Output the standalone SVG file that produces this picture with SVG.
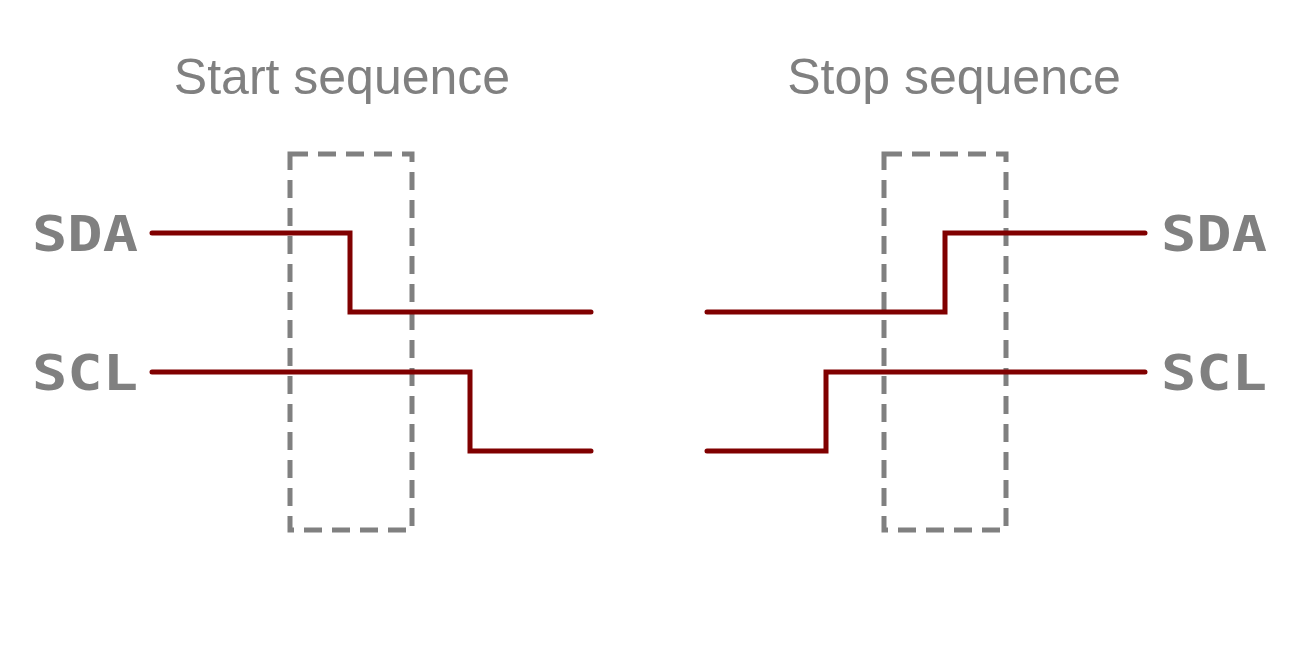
<svg xmlns="http://www.w3.org/2000/svg" width="1298" height="650" viewBox="0 0 1298 650">
<style>
.title{font-family:"Liberation Sans",Arial,sans-serif;font-size:50px;fill:#808080;text-anchor:middle}
.lbl{font-family:"DejaVu Sans Mono",monospace;font-size:50px;font-weight:bold;fill:#808080}
.box{fill:none;stroke:#808080;stroke-width:5;stroke-dasharray:18 10}
.sig{fill:none;stroke:#800000;stroke-width:5;stroke-linecap:round;stroke-linejoin:miter}
</style>
<rect width="1298" height="650" fill="#fff"/>
<g id="start-title"><text class="title" x="342" y="94">Start sequence</text></g>
<g id="stop-title"><text class="title" x="954" y="94">Stop sequence</text></g>
<g id="start-box"><rect class="box" x="290" y="154" width="122" height="376"/></g>
<g id="stop-box"><rect class="box" x="884" y="154" width="122" height="376"/></g>
<g id="labels">
<text class="lbl" x="32" y="251" textLength="106" lengthAdjust="spacingAndGlyphs">SDA</text>
<text class="lbl" x="32" y="390" textLength="106" lengthAdjust="spacingAndGlyphs">SCL</text>
<text class="lbl" x="1161" y="251" textLength="106" lengthAdjust="spacingAndGlyphs">SDA</text>
<text class="lbl" x="1161" y="390" textLength="106" lengthAdjust="spacingAndGlyphs">SCL</text>
</g>
<g id="connectors">
<path class="sig" d="M152,233 H350 V312 H591"/>
<path class="sig" d="M152,372 H470 V451 H591"/>
<path class="sig" d="M707,312 H945 V233 H1145"/>
<path class="sig" d="M707,451 H826 V372 H1145"/>
</g>
</svg>
